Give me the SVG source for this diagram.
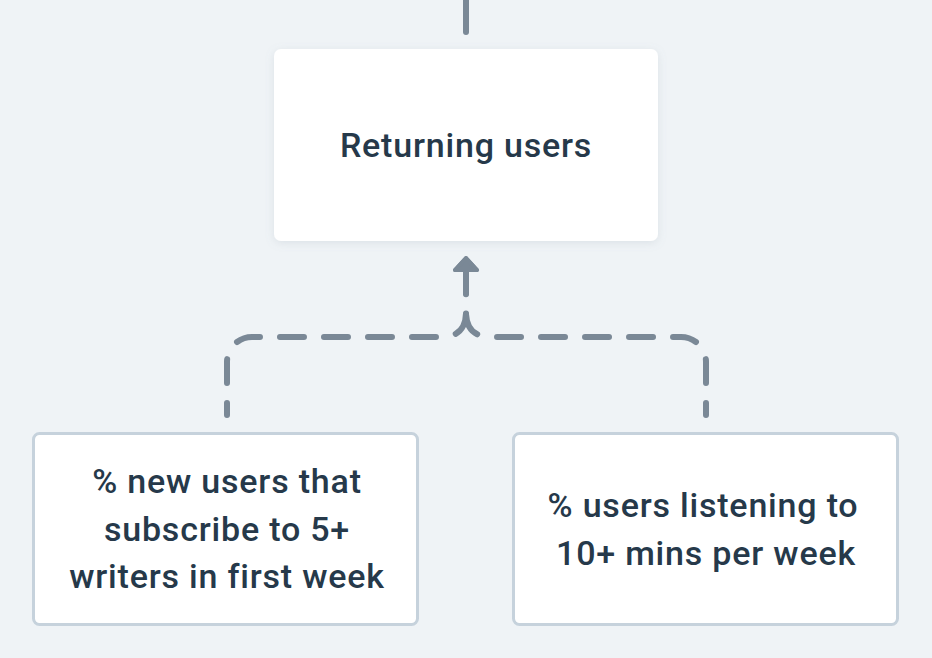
<svg xmlns="http://www.w3.org/2000/svg" width="932" height="658" viewBox="0 0 932 658">
  <style>
    .bg { fill: #eff3f6; }
    .conn { fill: none; stroke: #7a8896; stroke-width: 6; stroke-linecap: round; stroke-linejoin: round; }
    .dash { stroke-dasharray: 24 20; stroke-dashoffset: 12; }
    .card { fill: #ffffff; }
    .leaf { fill: #ffffff; stroke: #c6d2dc; stroke-width: 3; }
    .label { font-family: Roboto, "Liberation Sans", sans-serif; font-size: 34px; font-weight: 500; letter-spacing: 0.8px; fill: #26394a; text-anchor: middle; }
  </style>
  <defs>
    <filter id="shadow" x="-10%" y="-10%" width="120%" height="130%">
      <feDropShadow dx="0" dy="2" stdDeviation="4" flood-color="#8090a0" flood-opacity="0.18"/>
    </filter>
    <marker id="arrow" markerUnits="userSpaceOnUse" markerWidth="30" markerHeight="30" viewBox="0 0 30 30" refX="1" refY="15" orient="auto" overflow="visible">
      <polygon points="3,4 15,15 3,26" fill="#7a8896" stroke="#7a8896" stroke-width="4" stroke-linejoin="round"/>
    </marker>
  </defs>
  <rect class="bg" x="0" y="0" width="932" height="658"/>

  <g id="connectors">
    <path class="conn" d="M466,0 V32"/>
    <path class="conn dash" d="M227,415 V362 A25,25 0 0 1 252,337 H441 Q466,337 466,312 V272" marker-end="url(#arrow)"/>
    <path class="conn dash" d="M706,415 V362 A25,25 0 0 0 681,337 H491 Q466,337 466,312 V272" marker-end="url(#arrow)"/>
  </g>

  <g id="node-returning-users">
    <rect class="card" x="274" y="49" width="384" height="192" rx="7" filter="url(#shadow)"/>
    <text class="label" x="466" y="157">Returning users</text>
  </g>

  <g id="node-new-users-subscribe">
    <rect class="leaf" x="33.5" y="433.5" width="384" height="191" rx="6"/>
    <text class="label" x="227" y="493">% new users that</text>
    <text class="label" x="227" y="541">subscribe to 5+</text>
    <text class="label" x="227" y="588">writers in first week</text>
  </g>

  <g id="node-users-listening">
    <rect class="leaf" x="513.5" y="433.5" width="384" height="191" rx="6"/>
    <text class="label" x="703" y="517">% users listening to</text>
    <text class="label" x="706" y="565">10+ mins per week</text>
  </g>
</svg>
